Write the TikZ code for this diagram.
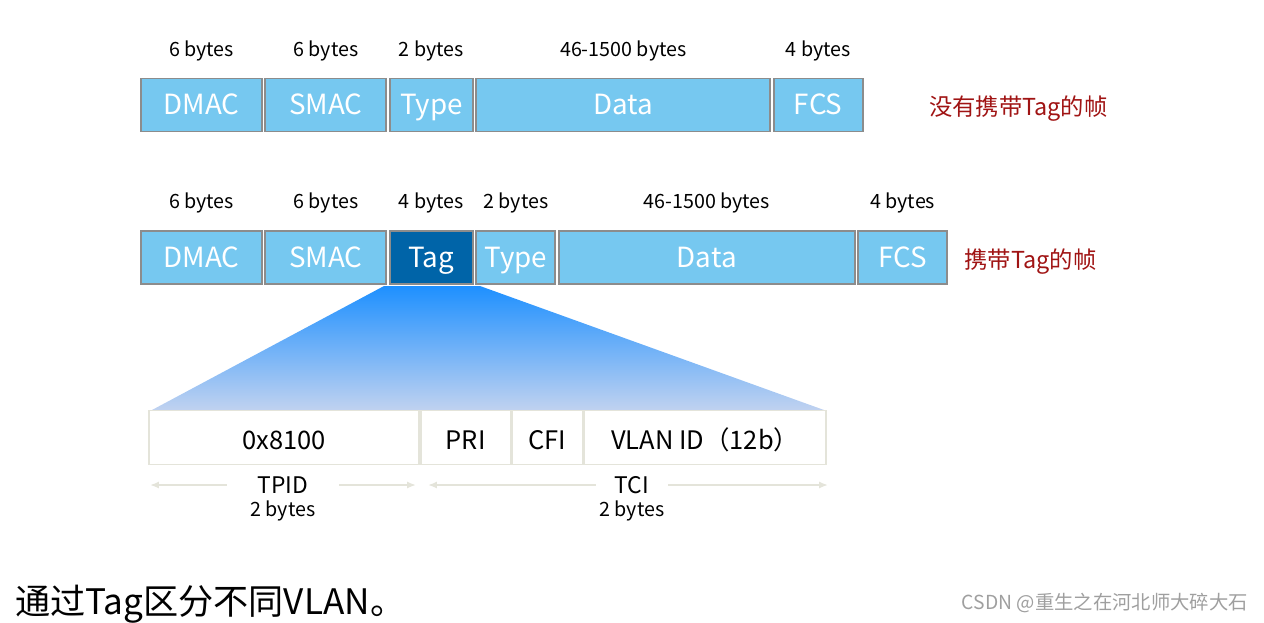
\documentclass[tikz,border=0pt]{standalone}
\usepackage{fontspec}
\setmainfont{Noto Sans CJK SC}
\usetikzlibrary{arrows.meta,positioning}
\definecolor{fieldblue}{RGB}{118,200,240}
\definecolor{tagblue}{RGB}{0,100,168}
\definecolor{framegray}{RGB}{140,140,140}
\definecolor{framelight}{RGB}{228,228,218}
\definecolor{labelred}{RGB}{160,20,20}
\definecolor{fantop}{RGB}{30,144,255}
\definecolor{fanbot}{RGB}{192,210,240}

\begin{document}
\begin{tikzpicture}[
    x=0.02cm, y=-0.02cm,
    >=Latex,
    node distance=0.03cm,
    field/.style={draw=framegray, line width=1.1pt, fill=fieldblue, text=white, font=\fontsize{15.8}{18}\selectfont, minimum height=1.06cm, inner sep=0pt, text height=1.3em, text depth=0.2em},
    fw/.style={minimum width=#1*0.02cm-0.04cm},
    tagfield/.style={field, fill=tagblue},
    bytes/.style={font=\fontsize{11.2}{13}\selectfont, inner sep=0pt},
    framename/.style={text=labelred, font=\fontsize{13.3}{16}\selectfont, inner sep=0pt, yshift=-0.08cm},
    sub/.style={draw=framelight, line width=1pt, fill=white, font=\fontsize{14.5}{17}\selectfont, minimum height=1.08cm, inner sep=0pt, text height=1.52em, text depth=0.2em},
    span/.style={<->, draw=framelight, line width=1.3pt, >={Latex[length=5pt,width=4pt]}},
    spanlab/.style={fill=white, inner ysep=0pt, font=\fontsize{13}{15}\selectfont}
]
\useasboundingbox (0,0) rectangle (1264,622);

% untagged frame
\node[field, fw=123] (dmac1) at (201.5,105) {DMAC};
\node[field, fw=123, right=of dmac1] (smac1) {SMAC};
\node[field, fw=85, right=of smac1] (type1) {Type};
\node[field, fw=296, right=of type1] (data1) {Data};
\node[field, fw=91, right=of data1] (fcs1) {FCS};
\node[bytes, above=0.33cm of dmac1] {6 bytes};
\node[bytes, above=0.33cm of smac1] {6 bytes};
\node[bytes, above=0.33cm of type1] {2 bytes};
\node[bytes, above=0.33cm of data1] {46-1500 bytes};
\node[bytes, above=0.33cm of fcs1] {4 bytes};
\node[framename, right=1.3cm of fcs1] (untagged) {没有携带Tag的帧};

% tagged frame
\node[field, fw=123] (dmac2) at (201.5,257.5) {DMAC};
\node[field, fw=123, right=of dmac2] (smac2) {SMAC};
\node[tagfield, fw=85, right=of smac2] (tag2) {Tag};
\node[field, fw=81, right=of tag2] (type2) {Type};
\node[field, fw=298, right=of type2] (data2) {Data};
\node[field, fw=91, right=of data2] (fcs2) {FCS};
\node[bytes, above=0.33cm of dmac2] {6 bytes};
\node[bytes, above=0.33cm of smac2] {6 bytes};
\node[bytes, above=0.33cm of tag2] {4 bytes};
\node[bytes, above=0.33cm of type2] {2 bytes};
\node[bytes, above=0.33cm of data2] {46-1500 bytes};
\node[bytes, above=0.33cm of fcs2] {4 bytes};
\node[framename, right=0.32cm of fcs2] (tagged) {携带Tag的帧};

% zoom fan
\shade[top color=fantop, bottom color=fanbot] (384,286) -- (480,286) -- (824,410) -- (152,410) -- cycle;

% tag fields
\node[sub, minimum width=5.40cm] (tpid) at (284,437.5) {0x8100};
\node[sub, minimum width=1.80cm, right=0cm of tpid] (pri) {PRI};
\node[sub, minimum width=1.40cm, right=0cm of pri] (cfi) {CFI};
\node[sub, minimum width=4.84cm, right=0cm of cfi] (vlan) {VLAN ID（12b）};

\coordinate (tpidL) at (150,485);
\coordinate (tpidR) at (416,485);
\coordinate (tciL) at (428,485);
\coordinate (tciR) at (828,485);
\draw[span] (tpidL) -- node[spanlab, inner xsep=0.62cm] (tpidlab) {TPID} (tpidR);
\draw[span] (tciL) -- node[spanlab, inner xsep=0.38cm, xshift=0.08cm] (tcilab) {TCI} (tciR);
\node[bytes, below=0.12cm of tpidlab] {2 bytes};
\node[bytes, below=0.12cm of tcilab] {2 bytes};

\node[anchor=west, inner sep=0pt, font=\fontsize{20}{24}\selectfont] (note) at (15,604) {通过Tag区分不同VLAN。};
\node[anchor=east, inner sep=0pt, text=gray!75, font=\fontsize{11}{13}\selectfont] (mark) at (1248,603) {CSDN @重生之在河北师大碎大石};
\end{tikzpicture}
\end{document}
